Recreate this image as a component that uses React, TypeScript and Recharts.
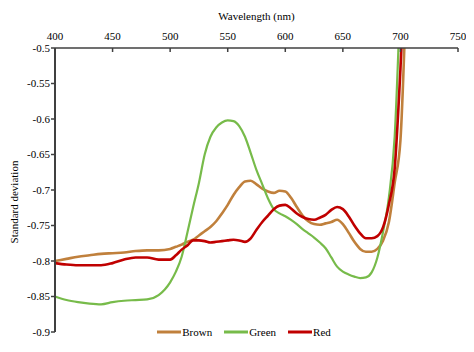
import React from "react";
import { LineChart, Line, XAxis, YAxis, Legend } from "recharts";

const wavelengths = [
  400, 410, 420, 430, 440, 450, 460, 470, 480, 490,
  500, 505, 510, 515, 520, 525, 530, 535, 540, 545,
  550, 555, 560, 565, 570, 575, 580, 585, 590, 595,
  600, 605, 610, 615, 620, 625, 630, 635, 640, 645,
  650, 655, 660, 665, 670, 675, 680, 685, 690, 695,
  700, 705,
];

const brown = [
  -0.8, -0.797, -0.794, -0.792, -0.79, -0.789, -0.788, -0.786, -0.785, -0.785,
  -0.783, -0.78, -0.777, -0.773, -0.77, -0.764, -0.758, -0.752, -0.744, -0.733,
  -0.721, -0.707, -0.696, -0.688, -0.687, -0.692, -0.698, -0.702, -0.704, -0.701,
  -0.702, -0.711, -0.724, -0.736, -0.744, -0.748, -0.749, -0.747, -0.745, -0.742,
  -0.748, -0.76, -0.773, -0.783, -0.787, -0.787, -0.783, -0.771, -0.745, -0.69,
  -0.63, -0.42,
];

const green = [
  -0.85, -0.855, -0.858, -0.86, -0.861, -0.858, -0.856, -0.855, -0.854, -0.848,
  -0.83, -0.815, -0.794, -0.76, -0.724, -0.69, -0.65, -0.625, -0.612, -0.605,
  -0.602, -0.603, -0.61, -0.625, -0.648, -0.672, -0.692, -0.712, -0.727, -0.733,
  -0.737, -0.742, -0.748, -0.755, -0.761, -0.767, -0.774, -0.782, -0.795, -0.808,
  -0.815, -0.819, -0.822, -0.824, -0.823, -0.816, -0.795, -0.758, -0.71, -0.625,
  -0.43, -0.25,
];

const red = [
  -0.803, -0.805, -0.806, -0.806, -0.806, -0.803, -0.798, -0.795, -0.795, -0.798,
  -0.798, -0.792, -0.784, -0.778, -0.771, -0.771, -0.772, -0.774, -0.773, -0.772,
  -0.771, -0.77, -0.771, -0.773, -0.768, -0.756, -0.745, -0.736, -0.727, -0.722,
  -0.721, -0.726, -0.733, -0.738, -0.741, -0.742, -0.739, -0.735, -0.728, -0.724,
  -0.727, -0.737, -0.75, -0.761, -0.768, -0.768, -0.765, -0.752, -0.72, -0.67,
  -0.53, -0.35,
];

const xTicks = [400, 450, 500, 550, 600, 650, 700, 750];
const yTicks = [-0.5, -0.55, -0.6, -0.65, -0.7, -0.75, -0.8, -0.85, -0.9];

const seriesNames = ["Brown", "Green", "Red"];
const seriesColors: Record<string, string> = {
  Brown: "#C0803C",
  Green: "#77BB4A",
  Red: "#C00000",
};

const data = wavelengths.map((w, i) => ({
  w,
  Brown: brown[i],
  Green: green[i],
  Red: red[i],
}));

const FONT = '"Liberation Serif", "Times New Roman", serif';
const AXIS_COLOR = "#404040";

const TopTick = (props: any) => {
  const { x, y, payload } = props;
  return (
    <g>
      <line x1={x} y1={y} x2={x} y2={y + 4} stroke={AXIS_COLOR} strokeWidth={1.5} />
      <text x={x} y={y - 8.5} textAnchor="middle" fontFamily={FONT} fontSize={11} fill="#000">
        {payload.value}
      </text>
    </g>
  );
};

const YLabel = (props: any) => {
  const vb = props.viewBox || {};
  const cx = (vb.x ?? 0) + 6;
  const cy = 40 + 142 + 12;
  return (
    <text
      x={cx}
      y={cy}
      transform={`rotate(-90, ${cx}, ${cy})`}
      textAnchor="middle"
      dominantBaseline="central"
      fontFamily={FONT}
      fontSize={11}
      fill="#000"
    >
      Standard deviation
    </text>
  );
};

const LegendContent = () => (
  <div
    style={{
      display: "flex",
      justifyContent: "center",
      alignItems: "center",
      fontFamily: FONT,
      fontSize: 11,
      color: "#000",
      paddingLeft: 6,
    }}
  >
    {seriesNames.map((n, i) => (
      <div
        key={n}
        style={{
          display: "flex",
          alignItems: "center",
          marginRight: i < seriesNames.length - 1 ? 12 : 0,
        }}
      >
        <svg width={24} height={6} style={{ display: "block" }}>
          <line x1={0} y1={3} x2={24} y2={3} stroke={seriesColors[n]} strokeWidth={3} />
        </svg>
        <span style={{ marginLeft: 1 }}>{n}</span>
      </div>
    ))}
  </div>
);

export default function App() {
  return (
    <LineChart
      width={466}
      height={344}
      data={data}
      margin={{ top: 0, right: 16, bottom: 20, left: 0 }}
    >
      <XAxis
        dataKey="w"
        type="number"
        orientation="top"
        domain={[400, 750]}
        ticks={xTicks}
        height={40}
        tickSize={0}
        tickMargin={0}
        tickLine={false}
        axisLine={{ stroke: AXIS_COLOR, strokeWidth: 1.5 }}
        tick={<TopTick />}
        label={{
          value: "Wavelength (nm)",
          position: "insideTop",
          offset: 4,
          style: { fontFamily: FONT, fontSize: 11, fill: "#000" },
        }}
      />
      <YAxis
        type="number"
        domain={[-0.9, -0.5]}
        ticks={yTicks}
        allowDataOverflow
        width={47}
        tickSize={4}
        tickMargin={1}
        tickLine={{ stroke: AXIS_COLOR, strokeWidth: 1.5 }}
        axisLine={{ stroke: AXIS_COLOR, strokeWidth: 2 }}
        tick={{ fontFamily: FONT, fontSize: 11, fill: "#000" }}
        label={<YLabel />}
      />
      <Legend
        layout="horizontal"
        verticalAlign="middle"
        align="center"
        content={<LegendContent />}
        wrapperStyle={{ top: 318, left: 0, width: 466 }}
      />
      {seriesNames.map((n) => (
        <Line
          key={n}
          type="monotone"
          dataKey={n}
          stroke={seriesColors[n]}
          strokeWidth={n === "Green" ? 2.2 : 2.6}
          dot={false}
          activeDot={false}
          isAnimationActive={false}
        />
      ))}
    </LineChart>
  );
}
